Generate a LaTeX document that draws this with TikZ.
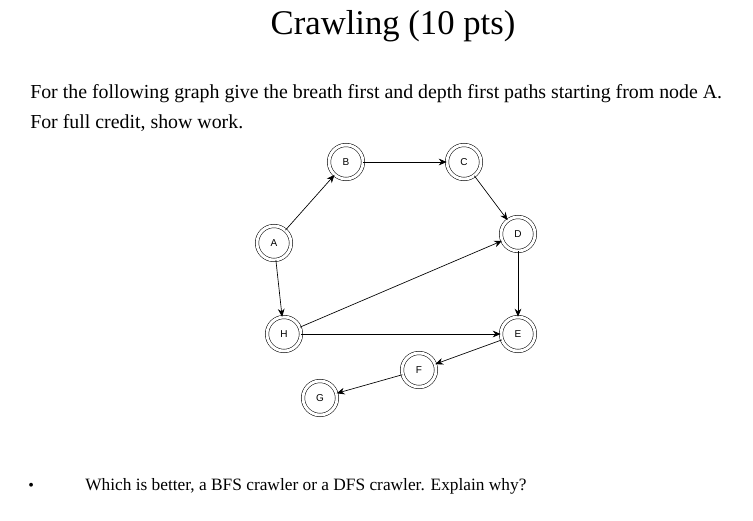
\documentclass[tikz,border=0pt]{standalone}
\usepackage{fontspec}
\setmainfont{Liberation Serif}
\newfontfamily\nodefont{Liberation Sans}
\usetikzlibrary{arrows.meta}
\begin{document}
\begin{tikzpicture}[x=0.75pt,y=-0.75pt,
  gnode/.style={circle,draw,double,double distance=2.2pt,minimum size=25.5pt,inner sep=0pt,font=\nodefont\fontsize{7.5}{8}\selectfont},
  edge/.style={-{Stealth[length=6pt,width=5pt]},line width=0.5pt}]
\useasboundingbox (0,0) rectangle (753,521);
\node (title) at (393,26) {\fontsize{26}{30}\selectfont Crawling (10 pts)};
\node[anchor=west,inner sep=0pt] (l1) at (30,94) {\fontsize{14.9}{17}\selectfont For the following graph give the breath first and depth first paths starting from node A.};
\node[anchor=west,inner sep=0pt] (l2) at (30,123) {\fontsize{14.9}{17}\selectfont For full credit, show work.};
\node[anchor=west,inner sep=0pt] (bul) at (28,487) {\fontsize{12}{14}\selectfont •};
\node[anchor=west,inner sep=0pt] (q) at (85,486) {\fontsize{13}{15}\selectfont Which is better, a BFS crawler or a DFS crawler. Explain why?};
\node[gnode] (B) at (346,162) {B};
\node[gnode] (C) at (464,162) {C};
\node[gnode] (A) at (274,243) {A};
\node[gnode] (D) at (518,234) {D};
\node[gnode] (H) at (284,334) {H};
\node[gnode] (E) at (518,334) {E};
\node[gnode] (F) at (419,370) {F};
\node[gnode] (G) at (320,398) {G};
\draw[edge] (A) -- (B);
\draw[edge] (B) -- (C);
\draw[edge] (C) -- (D);
\draw[edge] (D) -- (E);
\draw[edge] (A) -- (H);
\draw[edge] (H) -- (D);
\draw[edge] (H) -- (E);
\draw[edge] (E) -- (F);
\draw[edge] (F) -- (G);
\end{tikzpicture}
\end{document}
